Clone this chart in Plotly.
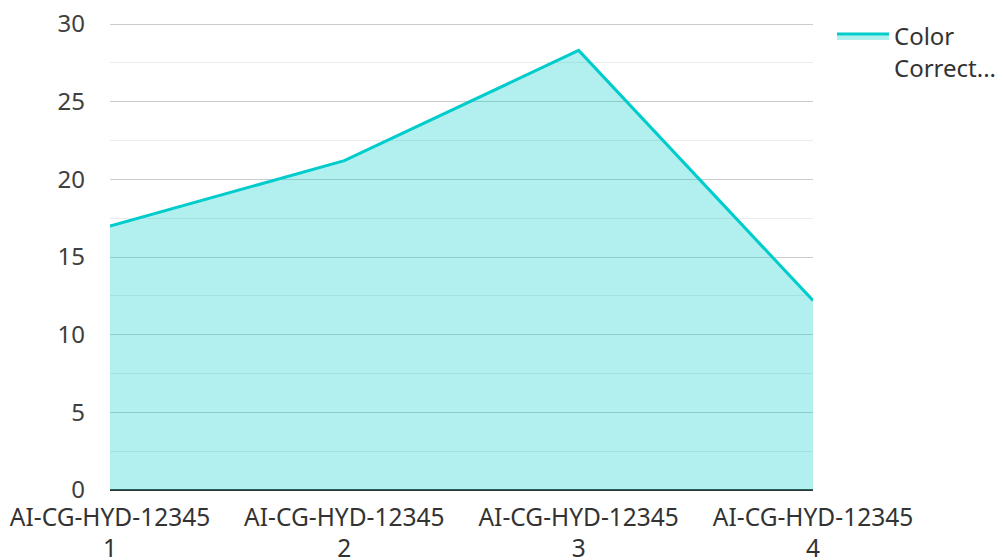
import plotly.graph_objects as go

categories = ["AI-CG-HYD-12345<br>1", "AI-CG-HYD-12345<br>2", "AI-CG-HYD-12345<br>3", "AI-CG-HYD-12345<br>4"]
values = [17.0, 21.2, 28.3, 12.2]
series_name = "Color<br>Correct..."
y_ticks = [0, 5, 10, 15, 20, 25, 30]

x_pos = list(range(len(categories)))

fig = go.Figure()
fig.add_trace(go.Scatter(
    x=x_pos, y=values, name=series_name, mode="lines",
    line=dict(color="#00CCCC", width=3),
    fill="tozeroy", fillcolor="rgba(0,204,204,0.3)",
    showlegend=True,
))

fig.update_layout(
    width=1003, height=560,
    margin=dict(l=102, r=198, t=14, b=78, autoexpand=False),
    paper_bgcolor="white", plot_bgcolor="white",
    font=dict(family="Noto Sans", size=24, color="#404040"),
    showlegend=True,
    legend=dict(xref="container", yref="container", x=0.8215, y=0.9894,
                xanchor="left", yanchor="top", valign="top",
                font=dict(size=24, color="#333333"), bgcolor="rgba(0,0,0,0)",
                itemwidth=52),
    xaxis=dict(
        tickmode="array", tickvals=x_pos, ticktext=categories,
        range=[0, len(categories) - 1], showgrid=False, zeroline=False,
        showline=False, ticks="", automargin=False, ticklabelstandoff=10,
        ticklabeloverflow="allow",
        tickfont=dict(size=24.5, color="#333333"),
    ),
    yaxis=dict(
        range=[0, 30.129], tickmode="array", tickvals=y_ticks,
        showgrid=True, gridcolor="#CCCCCC", gridwidth=1,
        minor=dict(dtick=2.5, tick0=0, showgrid=True, gridcolor="#EBEBEB", gridwidth=1),
        zeroline=True, zerolinecolor="#333333", zerolinewidth=2,
        showline=False, ticks="", ticklabelstandoff=24, automargin=False,
        ticklabeloverflow="allow",
        tickfont=dict(size=24, color="#404040"),
    ),
)

fig.write_html("out.html")
